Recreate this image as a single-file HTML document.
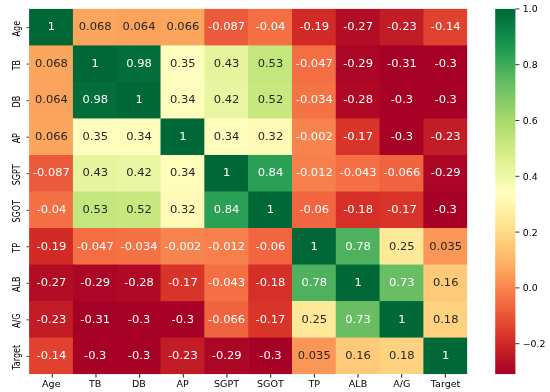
<!DOCTYPE html>
<html><head><meta charset="utf-8"><title>Correlation heatmap</title>
<style>html,body{margin:0;padding:0;background:#fff;}svg{display:block;}text{font-family:"DejaVu Sans","Liberation Sans",sans-serif;}.soft{filter:blur(0.35px);}</style></head><body>
<svg width="550" height="392" viewBox="0 0 550 392">
<rect width="550" height="392" fill="#ffffff"/>
<g>
<rect x="29.10" y="8.90" width="44.41" height="37.12" fill="#006837"/>
<rect x="72.91" y="8.90" width="44.41" height="37.12" fill="#fca55d"/>
<rect x="116.72" y="8.90" width="44.41" height="37.12" fill="#fba35c"/>
<rect x="160.53" y="8.90" width="44.41" height="37.12" fill="#fca55d"/>
<rect x="204.34" y="8.90" width="44.41" height="37.12" fill="#eb5a3a"/>
<rect x="248.15" y="8.90" width="44.41" height="37.12" fill="#f47044"/>
<rect x="291.96" y="8.90" width="44.41" height="37.12" fill="#d22b27"/>
<rect x="335.77" y="8.90" width="44.41" height="37.12" fill="#b30d26"/>
<rect x="379.58" y="8.90" width="44.41" height="37.12" fill="#c21c27"/>
<rect x="423.39" y="8.90" width="44.41" height="37.12" fill="#e0422f"/>
<rect x="29.10" y="45.42" width="44.41" height="37.12" fill="#fca55d"/>
<rect x="72.91" y="45.42" width="44.41" height="37.12" fill="#006837"/>
<rect x="116.72" y="45.42" width="44.41" height="37.12" fill="#036e3a"/>
<rect x="160.53" y="45.42" width="44.41" height="37.12" fill="#feffbe"/>
<rect x="204.34" y="45.42" width="44.41" height="37.12" fill="#e6f59d"/>
<rect x="248.15" y="45.42" width="44.41" height="37.12" fill="#c3e67d"/>
<rect x="291.96" y="45.42" width="44.41" height="37.12" fill="#f46d43"/>
<rect x="335.77" y="45.42" width="44.41" height="37.12" fill="#ab0626"/>
<rect x="379.58" y="45.42" width="44.41" height="37.12" fill="#a50026"/>
<rect x="423.39" y="45.42" width="44.41" height="37.12" fill="#a70226"/>
<rect x="29.10" y="81.94" width="44.41" height="37.12" fill="#fba35c"/>
<rect x="72.91" y="81.94" width="44.41" height="37.12" fill="#036e3a"/>
<rect x="116.72" y="81.94" width="44.41" height="37.12" fill="#006837"/>
<rect x="160.53" y="81.94" width="44.41" height="37.12" fill="#fffdbc"/>
<rect x="204.34" y="81.94" width="44.41" height="37.12" fill="#e9f6a1"/>
<rect x="248.15" y="81.94" width="44.41" height="37.12" fill="#c7e77f"/>
<rect x="291.96" y="81.94" width="44.41" height="37.12" fill="#f57245"/>
<rect x="335.77" y="81.94" width="44.41" height="37.12" fill="#af0926"/>
<rect x="379.58" y="81.94" width="44.41" height="37.12" fill="#a70226"/>
<rect x="423.39" y="81.94" width="44.41" height="37.12" fill="#a70226"/>
<rect x="29.10" y="118.46" width="44.41" height="37.12" fill="#fca55d"/>
<rect x="72.91" y="118.46" width="44.41" height="37.12" fill="#feffbe"/>
<rect x="116.72" y="118.46" width="44.41" height="37.12" fill="#fffdbc"/>
<rect x="160.53" y="118.46" width="44.41" height="37.12" fill="#006837"/>
<rect x="204.34" y="118.46" width="44.41" height="37.12" fill="#fffdbc"/>
<rect x="248.15" y="118.46" width="44.41" height="37.12" fill="#fffab6"/>
<rect x="291.96" y="118.46" width="44.41" height="37.12" fill="#f7844e"/>
<rect x="335.77" y="118.46" width="44.41" height="37.12" fill="#d93429"/>
<rect x="379.58" y="118.46" width="44.41" height="37.12" fill="#a70226"/>
<rect x="423.39" y="118.46" width="44.41" height="37.12" fill="#c21c27"/>
<rect x="29.10" y="154.98" width="44.41" height="37.12" fill="#eb5a3a"/>
<rect x="72.91" y="154.98" width="44.41" height="37.12" fill="#e6f59d"/>
<rect x="116.72" y="154.98" width="44.41" height="37.12" fill="#e9f6a1"/>
<rect x="160.53" y="154.98" width="44.41" height="37.12" fill="#fffdbc"/>
<rect x="204.34" y="154.98" width="44.41" height="37.12" fill="#006837"/>
<rect x="248.15" y="154.98" width="44.41" height="37.12" fill="#2aa054"/>
<rect x="291.96" y="154.98" width="44.41" height="37.12" fill="#f67f4b"/>
<rect x="335.77" y="154.98" width="44.41" height="37.12" fill="#f47044"/>
<rect x="379.58" y="154.98" width="44.41" height="37.12" fill="#ef633f"/>
<rect x="423.39" y="154.98" width="44.41" height="37.12" fill="#ab0626"/>
<rect x="29.10" y="191.50" width="44.41" height="37.12" fill="#f47044"/>
<rect x="72.91" y="191.50" width="44.41" height="37.12" fill="#c3e67d"/>
<rect x="116.72" y="191.50" width="44.41" height="37.12" fill="#c7e77f"/>
<rect x="160.53" y="191.50" width="44.41" height="37.12" fill="#fffab6"/>
<rect x="204.34" y="191.50" width="44.41" height="37.12" fill="#2aa054"/>
<rect x="248.15" y="191.50" width="44.41" height="37.12" fill="#006837"/>
<rect x="291.96" y="191.50" width="44.41" height="37.12" fill="#f16640"/>
<rect x="335.77" y="191.50" width="44.41" height="37.12" fill="#d62f27"/>
<rect x="379.58" y="191.50" width="44.41" height="37.12" fill="#d93429"/>
<rect x="423.39" y="191.50" width="44.41" height="37.12" fill="#a70226"/>
<rect x="29.10" y="228.02" width="44.41" height="37.12" fill="#d22b27"/>
<rect x="72.91" y="228.02" width="44.41" height="37.12" fill="#f46d43"/>
<rect x="116.72" y="228.02" width="44.41" height="37.12" fill="#f57245"/>
<rect x="160.53" y="228.02" width="44.41" height="37.12" fill="#f7844e"/>
<rect x="204.34" y="228.02" width="44.41" height="37.12" fill="#f67f4b"/>
<rect x="248.15" y="228.02" width="44.41" height="37.12" fill="#f16640"/>
<rect x="291.96" y="228.02" width="44.41" height="37.12" fill="#006837"/>
<rect x="335.77" y="228.02" width="44.41" height="37.12" fill="#4eb15d"/>
<rect x="379.58" y="228.02" width="44.41" height="37.12" fill="#fee999"/>
<rect x="423.39" y="228.02" width="44.41" height="37.12" fill="#fa9656"/>
<rect x="29.10" y="264.54" width="44.41" height="37.12" fill="#b30d26"/>
<rect x="72.91" y="264.54" width="44.41" height="37.12" fill="#ab0626"/>
<rect x="116.72" y="264.54" width="44.41" height="37.12" fill="#af0926"/>
<rect x="160.53" y="264.54" width="44.41" height="37.12" fill="#d93429"/>
<rect x="204.34" y="264.54" width="44.41" height="37.12" fill="#f47044"/>
<rect x="248.15" y="264.54" width="44.41" height="37.12" fill="#d62f27"/>
<rect x="291.96" y="264.54" width="44.41" height="37.12" fill="#4eb15d"/>
<rect x="335.77" y="264.54" width="44.41" height="37.12" fill="#006837"/>
<rect x="379.58" y="264.54" width="44.41" height="37.12" fill="#69be63"/>
<rect x="423.39" y="264.54" width="44.41" height="37.12" fill="#feca79"/>
<rect x="29.10" y="301.06" width="44.41" height="37.12" fill="#c21c27"/>
<rect x="72.91" y="301.06" width="44.41" height="37.12" fill="#a50026"/>
<rect x="116.72" y="301.06" width="44.41" height="37.12" fill="#a70226"/>
<rect x="160.53" y="301.06" width="44.41" height="37.12" fill="#a70226"/>
<rect x="204.34" y="301.06" width="44.41" height="37.12" fill="#ef633f"/>
<rect x="248.15" y="301.06" width="44.41" height="37.12" fill="#d93429"/>
<rect x="291.96" y="301.06" width="44.41" height="37.12" fill="#fee999"/>
<rect x="335.77" y="301.06" width="44.41" height="37.12" fill="#69be63"/>
<rect x="379.58" y="301.06" width="44.41" height="37.12" fill="#006837"/>
<rect x="423.39" y="301.06" width="44.41" height="37.12" fill="#fed27f"/>
<rect x="29.10" y="337.58" width="44.41" height="37.12" fill="#e0422f"/>
<rect x="72.91" y="337.58" width="44.41" height="37.12" fill="#a70226"/>
<rect x="116.72" y="337.58" width="44.41" height="37.12" fill="#a70226"/>
<rect x="160.53" y="337.58" width="44.41" height="37.12" fill="#c21c27"/>
<rect x="204.34" y="337.58" width="44.41" height="37.12" fill="#ab0626"/>
<rect x="248.15" y="337.58" width="44.41" height="37.12" fill="#a70226"/>
<rect x="291.96" y="337.58" width="44.41" height="37.12" fill="#fa9656"/>
<rect x="335.77" y="337.58" width="44.41" height="37.12" fill="#feca79"/>
<rect x="379.58" y="337.58" width="44.41" height="37.12" fill="#fed27f"/>
<rect x="423.39" y="337.58" width="44.41" height="37.12" fill="#006837"/>
</g>
<rect x="467.20" y="0" width="28.00" height="392" fill="#fff"/>
<rect x="0" y="374.10" width="550" height="17.90" fill="#fff"/>
<g class="soft" font-size="10.0" text-anchor="middle">
<text transform="translate(51.40,30.41) scale(1.15,1)" fill="#ffffff">1</text>
<text transform="translate(95.22,30.41) scale(1.15,1)" fill="#262626">0.068</text>
<text transform="translate(139.03,30.41) scale(1.15,1)" fill="#262626">0.064</text>
<text transform="translate(182.83,30.41) scale(1.15,1)" fill="#262626">0.066</text>
<text transform="translate(226.64,30.41) scale(1.15,1)" fill="#ffffff">-0.087</text>
<text transform="translate(270.45,30.41) scale(1.15,1)" fill="#ffffff">-0.04</text>
<text transform="translate(314.26,30.41) scale(1.15,1)" fill="#ffffff">-0.19</text>
<text transform="translate(358.07,30.41) scale(1.15,1)" fill="#ffffff">-0.27</text>
<text transform="translate(401.88,30.41) scale(1.15,1)" fill="#ffffff">-0.23</text>
<text transform="translate(445.69,30.41) scale(1.15,1)" fill="#ffffff">-0.14</text>
<text transform="translate(51.40,66.93) scale(1.15,1)" fill="#262626">0.068</text>
<text transform="translate(95.22,66.93) scale(1.15,1)" fill="#ffffff">1</text>
<text transform="translate(139.03,66.93) scale(1.15,1)" fill="#ffffff">0.98</text>
<text transform="translate(182.83,66.93) scale(1.15,1)" fill="#262626">0.35</text>
<text transform="translate(226.64,66.93) scale(1.15,1)" fill="#262626">0.43</text>
<text transform="translate(270.45,66.93) scale(1.15,1)" fill="#262626">0.53</text>
<text transform="translate(314.26,66.93) scale(1.15,1)" fill="#ffffff">-0.047</text>
<text transform="translate(358.07,66.93) scale(1.15,1)" fill="#ffffff">-0.29</text>
<text transform="translate(401.88,66.93) scale(1.15,1)" fill="#ffffff">-0.31</text>
<text transform="translate(445.69,66.93) scale(1.15,1)" fill="#ffffff">-0.3</text>
<text transform="translate(51.40,103.45) scale(1.15,1)" fill="#262626">0.064</text>
<text transform="translate(95.22,103.45) scale(1.15,1)" fill="#ffffff">0.98</text>
<text transform="translate(139.03,103.45) scale(1.15,1)" fill="#ffffff">1</text>
<text transform="translate(182.83,103.45) scale(1.15,1)" fill="#262626">0.34</text>
<text transform="translate(226.64,103.45) scale(1.15,1)" fill="#262626">0.42</text>
<text transform="translate(270.45,103.45) scale(1.15,1)" fill="#262626">0.52</text>
<text transform="translate(314.26,103.45) scale(1.15,1)" fill="#ffffff">-0.034</text>
<text transform="translate(358.07,103.45) scale(1.15,1)" fill="#ffffff">-0.28</text>
<text transform="translate(401.88,103.45) scale(1.15,1)" fill="#ffffff">-0.3</text>
<text transform="translate(445.69,103.45) scale(1.15,1)" fill="#ffffff">-0.3</text>
<text transform="translate(51.40,139.97) scale(1.15,1)" fill="#262626">0.066</text>
<text transform="translate(95.22,139.97) scale(1.15,1)" fill="#262626">0.35</text>
<text transform="translate(139.03,139.97) scale(1.15,1)" fill="#262626">0.34</text>
<text transform="translate(182.83,139.97) scale(1.15,1)" fill="#ffffff">1</text>
<text transform="translate(226.64,139.97) scale(1.15,1)" fill="#262626">0.34</text>
<text transform="translate(270.45,139.97) scale(1.15,1)" fill="#262626">0.32</text>
<text transform="translate(314.26,139.97) scale(1.15,1)" fill="#ffffff">-0.002</text>
<text transform="translate(358.07,139.97) scale(1.15,1)" fill="#ffffff">-0.17</text>
<text transform="translate(401.88,139.97) scale(1.15,1)" fill="#ffffff">-0.3</text>
<text transform="translate(445.69,139.97) scale(1.15,1)" fill="#ffffff">-0.23</text>
<text transform="translate(51.40,176.49) scale(1.15,1)" fill="#ffffff">-0.087</text>
<text transform="translate(95.22,176.49) scale(1.15,1)" fill="#262626">0.43</text>
<text transform="translate(139.03,176.49) scale(1.15,1)" fill="#262626">0.42</text>
<text transform="translate(182.83,176.49) scale(1.15,1)" fill="#262626">0.34</text>
<text transform="translate(226.64,176.49) scale(1.15,1)" fill="#ffffff">1</text>
<text transform="translate(270.45,176.49) scale(1.15,1)" fill="#ffffff">0.84</text>
<text transform="translate(314.26,176.49) scale(1.15,1)" fill="#ffffff">-0.012</text>
<text transform="translate(358.07,176.49) scale(1.15,1)" fill="#ffffff">-0.043</text>
<text transform="translate(401.88,176.49) scale(1.15,1)" fill="#ffffff">-0.066</text>
<text transform="translate(445.69,176.49) scale(1.15,1)" fill="#ffffff">-0.29</text>
<text transform="translate(51.40,213.01) scale(1.15,1)" fill="#ffffff">-0.04</text>
<text transform="translate(95.22,213.01) scale(1.15,1)" fill="#262626">0.53</text>
<text transform="translate(139.03,213.01) scale(1.15,1)" fill="#262626">0.52</text>
<text transform="translate(182.83,213.01) scale(1.15,1)" fill="#262626">0.32</text>
<text transform="translate(226.64,213.01) scale(1.15,1)" fill="#ffffff">0.84</text>
<text transform="translate(270.45,213.01) scale(1.15,1)" fill="#ffffff">1</text>
<text transform="translate(314.26,213.01) scale(1.15,1)" fill="#ffffff">-0.06</text>
<text transform="translate(358.07,213.01) scale(1.15,1)" fill="#ffffff">-0.18</text>
<text transform="translate(401.88,213.01) scale(1.15,1)" fill="#ffffff">-0.17</text>
<text transform="translate(445.69,213.01) scale(1.15,1)" fill="#ffffff">-0.3</text>
<text transform="translate(51.40,249.53) scale(1.15,1)" fill="#ffffff">-0.19</text>
<text transform="translate(95.22,249.53) scale(1.15,1)" fill="#ffffff">-0.047</text>
<text transform="translate(139.03,249.53) scale(1.15,1)" fill="#ffffff">-0.034</text>
<text transform="translate(182.83,249.53) scale(1.15,1)" fill="#ffffff">-0.002</text>
<text transform="translate(226.64,249.53) scale(1.15,1)" fill="#ffffff">-0.012</text>
<text transform="translate(270.45,249.53) scale(1.15,1)" fill="#ffffff">-0.06</text>
<text transform="translate(314.26,249.53) scale(1.15,1)" fill="#ffffff">1</text>
<text transform="translate(358.07,249.53) scale(1.15,1)" fill="#ffffff">0.78</text>
<text transform="translate(401.88,249.53) scale(1.15,1)" fill="#262626">0.25</text>
<text transform="translate(445.69,249.53) scale(1.15,1)" fill="#262626">0.035</text>
<text transform="translate(51.40,286.05) scale(1.15,1)" fill="#ffffff">-0.27</text>
<text transform="translate(95.22,286.05) scale(1.15,1)" fill="#ffffff">-0.29</text>
<text transform="translate(139.03,286.05) scale(1.15,1)" fill="#ffffff">-0.28</text>
<text transform="translate(182.83,286.05) scale(1.15,1)" fill="#ffffff">-0.17</text>
<text transform="translate(226.64,286.05) scale(1.15,1)" fill="#ffffff">-0.043</text>
<text transform="translate(270.45,286.05) scale(1.15,1)" fill="#ffffff">-0.18</text>
<text transform="translate(314.26,286.05) scale(1.15,1)" fill="#ffffff">0.78</text>
<text transform="translate(358.07,286.05) scale(1.15,1)" fill="#ffffff">1</text>
<text transform="translate(401.88,286.05) scale(1.15,1)" fill="#ffffff">0.73</text>
<text transform="translate(445.69,286.05) scale(1.15,1)" fill="#262626">0.16</text>
<text transform="translate(51.40,322.57) scale(1.15,1)" fill="#ffffff">-0.23</text>
<text transform="translate(95.22,322.57) scale(1.15,1)" fill="#ffffff">-0.31</text>
<text transform="translate(139.03,322.57) scale(1.15,1)" fill="#ffffff">-0.3</text>
<text transform="translate(182.83,322.57) scale(1.15,1)" fill="#ffffff">-0.3</text>
<text transform="translate(226.64,322.57) scale(1.15,1)" fill="#ffffff">-0.066</text>
<text transform="translate(270.45,322.57) scale(1.15,1)" fill="#ffffff">-0.17</text>
<text transform="translate(314.26,322.57) scale(1.15,1)" fill="#262626">0.25</text>
<text transform="translate(358.07,322.57) scale(1.15,1)" fill="#ffffff">0.73</text>
<text transform="translate(401.88,322.57) scale(1.15,1)" fill="#ffffff">1</text>
<text transform="translate(445.69,322.57) scale(1.15,1)" fill="#262626">0.18</text>
<text transform="translate(51.40,359.09) scale(1.15,1)" fill="#ffffff">-0.14</text>
<text transform="translate(95.22,359.09) scale(1.15,1)" fill="#ffffff">-0.3</text>
<text transform="translate(139.03,359.09) scale(1.15,1)" fill="#ffffff">-0.3</text>
<text transform="translate(182.83,359.09) scale(1.15,1)" fill="#ffffff">-0.23</text>
<text transform="translate(226.64,359.09) scale(1.15,1)" fill="#ffffff">-0.29</text>
<text transform="translate(270.45,359.09) scale(1.15,1)" fill="#ffffff">-0.3</text>
<text transform="translate(314.26,359.09) scale(1.15,1)" fill="#262626">0.035</text>
<text transform="translate(358.07,359.09) scale(1.15,1)" fill="#262626">0.16</text>
<text transform="translate(401.88,359.09) scale(1.15,1)" fill="#262626">0.18</text>
<text transform="translate(445.69,359.09) scale(1.15,1)" fill="#ffffff">1</text>
</g>
<defs><linearGradient id="cb" x1="0" y1="0" x2="0" y2="1"><stop offset="0.0000" stop-color="#006837"/><stop offset="0.0156" stop-color="#036e3a"/><stop offset="0.0312" stop-color="#07753e"/><stop offset="0.0469" stop-color="#0b7d42"/><stop offset="0.0625" stop-color="#0f8446"/><stop offset="0.0781" stop-color="#138c4a"/><stop offset="0.0938" stop-color="#17934e"/><stop offset="0.1094" stop-color="#1e9a51"/><stop offset="0.1250" stop-color="#2aa054"/><stop offset="0.1406" stop-color="#36a657"/><stop offset="0.1562" stop-color="#42ac5a"/><stop offset="0.1719" stop-color="#4eb15d"/><stop offset="0.1875" stop-color="#5ab760"/><stop offset="0.2031" stop-color="#66bd63"/><stop offset="0.2188" stop-color="#70c164"/><stop offset="0.2344" stop-color="#7ac665"/><stop offset="0.2500" stop-color="#84ca66"/><stop offset="0.2656" stop-color="#8ecf67"/><stop offset="0.2812" stop-color="#98d368"/><stop offset="0.2969" stop-color="#a2d76a"/><stop offset="0.3125" stop-color="#abdb6d"/><stop offset="0.3281" stop-color="#b3df72"/><stop offset="0.3438" stop-color="#bbe278"/><stop offset="0.3594" stop-color="#c3e67d"/><stop offset="0.3750" stop-color="#cbe982"/><stop offset="0.3906" stop-color="#d3ec87"/><stop offset="0.4062" stop-color="#daf08d"/><stop offset="0.4219" stop-color="#e0f295"/><stop offset="0.4375" stop-color="#e6f59d"/><stop offset="0.4531" stop-color="#ecf7a6"/><stop offset="0.4688" stop-color="#f2faae"/><stop offset="0.4844" stop-color="#f8fcb6"/><stop offset="0.5000" stop-color="#feffbe"/><stop offset="0.5156" stop-color="#fffbb8"/><stop offset="0.5312" stop-color="#fff6b0"/><stop offset="0.5469" stop-color="#fff1a8"/><stop offset="0.5625" stop-color="#feec9f"/><stop offset="0.5781" stop-color="#fee797"/><stop offset="0.5938" stop-color="#fee28f"/><stop offset="0.6094" stop-color="#fedc88"/><stop offset="0.6250" stop-color="#fed481"/><stop offset="0.6406" stop-color="#fecc7b"/><stop offset="0.6562" stop-color="#fdc574"/><stop offset="0.6719" stop-color="#fdbd6d"/><stop offset="0.6875" stop-color="#fdb567"/><stop offset="0.7031" stop-color="#fdad60"/><stop offset="0.7188" stop-color="#fba35c"/><stop offset="0.7344" stop-color="#fa9857"/><stop offset="0.7500" stop-color="#f98e52"/><stop offset="0.7656" stop-color="#f7844e"/><stop offset="0.7812" stop-color="#f67a49"/><stop offset="0.7969" stop-color="#f47044"/><stop offset="0.8125" stop-color="#f16640"/><stop offset="0.8281" stop-color="#ec5c3b"/><stop offset="0.8438" stop-color="#e75337"/><stop offset="0.8594" stop-color="#e34933"/><stop offset="0.8750" stop-color="#de402e"/><stop offset="0.8906" stop-color="#da362a"/><stop offset="0.9062" stop-color="#d42d27"/><stop offset="0.9219" stop-color="#cc2627"/><stop offset="0.9375" stop-color="#c41e27"/><stop offset="0.9531" stop-color="#bd1726"/><stop offset="0.9688" stop-color="#b50f26"/><stop offset="0.9844" stop-color="#ad0826"/><stop offset="1.0000" stop-color="#a50026"/></linearGradient></defs>
<rect x="495.2" y="8.9" width="20.20" height="365.20" fill="url(#cb)"/>
<g stroke="#000" stroke-width="0.8">
<line x1="52.30" y1="374.10" x2="52.30" y2="377.60" stroke-width="0.92"/>
<line x1="95.97" y1="374.10" x2="95.97" y2="377.60" stroke-width="0.92"/>
<line x1="139.64" y1="374.10" x2="139.64" y2="377.60" stroke-width="0.92"/>
<line x1="183.31" y1="374.10" x2="183.31" y2="377.60" stroke-width="0.92"/>
<line x1="226.98" y1="374.10" x2="226.98" y2="377.60" stroke-width="0.92"/>
<line x1="270.65" y1="374.10" x2="270.65" y2="377.60" stroke-width="0.92"/>
<line x1="314.32" y1="374.10" x2="314.32" y2="377.60" stroke-width="0.92"/>
<line x1="357.99" y1="374.10" x2="357.99" y2="377.60" stroke-width="0.92"/>
<line x1="401.66" y1="374.10" x2="401.66" y2="377.60" stroke-width="0.92"/>
<line x1="445.33" y1="374.10" x2="445.33" y2="377.60" stroke-width="0.92"/>
<line x1="26.40" y1="27.55" x2="29.10" y2="27.55" stroke="#222"/>
<line x1="26.40" y1="64.09" x2="29.10" y2="64.09" stroke="#222"/>
<line x1="26.40" y1="100.63" x2="29.10" y2="100.63" stroke="#222"/>
<line x1="26.40" y1="137.17" x2="29.10" y2="137.17" stroke="#222"/>
<line x1="26.40" y1="173.71" x2="29.10" y2="173.71" stroke="#222"/>
<line x1="26.40" y1="210.25" x2="29.10" y2="210.25" stroke="#222"/>
<line x1="26.40" y1="246.79" x2="29.10" y2="246.79" stroke="#222"/>
<line x1="26.40" y1="283.33" x2="29.10" y2="283.33" stroke="#222"/>
<line x1="26.40" y1="319.87" x2="29.10" y2="319.87" stroke="#222"/>
<line x1="26.40" y1="356.41" x2="29.10" y2="356.41" stroke="#222"/>
<line x1="515.40" y1="8.90" x2="519.42" y2="8.90"/>
<line x1="515.40" y1="64.70" x2="519.42" y2="64.70"/>
<line x1="515.40" y1="120.50" x2="519.42" y2="120.50"/>
<line x1="515.40" y1="176.29" x2="519.42" y2="176.29"/>
<line x1="515.40" y1="232.09" x2="519.42" y2="232.09"/>
<line x1="515.40" y1="287.89" x2="519.42" y2="287.89"/>
<line x1="515.40" y1="343.69" x2="519.42" y2="343.69"/>
</g>
<g class="soft" font-size="8.3" fill="#000">
<text transform="translate(51.30,387.15) scale(1.15,1)" text-anchor="middle">Age</text>
<text transform="translate(95.11,387.15) scale(1.15,1)" text-anchor="middle">TB</text>
<text transform="translate(138.93,387.15) scale(1.15,1)" text-anchor="middle">DB</text>
<text transform="translate(182.73,387.15) scale(1.15,1)" text-anchor="middle">AP</text>
<text transform="translate(226.54,387.15) scale(1.15,1)" text-anchor="middle">SGPT</text>
<text transform="translate(270.36,387.15) scale(1.15,1)" text-anchor="middle">SGOT</text>
<text transform="translate(314.17,387.15) scale(1.15,1)" text-anchor="middle">TP</text>
<text transform="translate(357.98,387.15) scale(1.15,1)" text-anchor="middle">ALB</text>
<text transform="translate(401.78,387.15) scale(1.15,1)" text-anchor="middle">A/G</text>
<text transform="translate(445.59,387.15) scale(1.15,1)" text-anchor="middle">Target</text>
<text transform="translate(19.50,28.66) scale(1.2,1) rotate(-90)" font-size="8.0" text-anchor="middle">Age</text>
<text transform="translate(19.50,65.18) scale(1.2,1) rotate(-90)" font-size="8.0" text-anchor="middle">TB</text>
<text transform="translate(19.50,101.70) scale(1.2,1) rotate(-90)" font-size="8.0" text-anchor="middle">DB</text>
<text transform="translate(19.50,138.22) scale(1.2,1) rotate(-90)" font-size="8.0" text-anchor="middle">AP</text>
<text transform="translate(19.50,174.74) scale(1.2,1) rotate(-90)" font-size="8.0" text-anchor="middle">SGPT</text>
<text transform="translate(19.50,211.26) scale(1.2,1) rotate(-90)" font-size="8.0" text-anchor="middle">SGOT</text>
<text transform="translate(19.50,247.78) scale(1.2,1) rotate(-90)" font-size="8.0" text-anchor="middle">TP</text>
<text transform="translate(19.50,284.30) scale(1.2,1) rotate(-90)" font-size="8.0" text-anchor="middle">ALB</text>
<text transform="translate(19.50,320.82) scale(1.2,1) rotate(-90)" font-size="8.0" text-anchor="middle">A/G</text>
<text transform="translate(19.50,357.34) scale(1.2,1) rotate(-90)" font-size="8.0" text-anchor="middle">Target</text>
<text transform="translate(522.75,12.43) scale(1.13,1)" font-size="8.3">1.0</text>
<text transform="translate(522.75,68.23) scale(1.13,1)" font-size="8.3">0.8</text>
<text transform="translate(522.75,124.03) scale(1.13,1)" font-size="8.3">0.6</text>
<text transform="translate(522.75,179.82) scale(1.13,1)" font-size="8.3">0.4</text>
<text transform="translate(522.75,235.62) scale(1.13,1)" font-size="8.3">0.2</text>
<text transform="translate(522.75,291.42) scale(1.13,1)" font-size="8.3">0.0</text>
<text transform="translate(522.75,347.22) scale(1.13,1)" font-size="8.3">−0.2</text>
</g>
</svg></body></html>
